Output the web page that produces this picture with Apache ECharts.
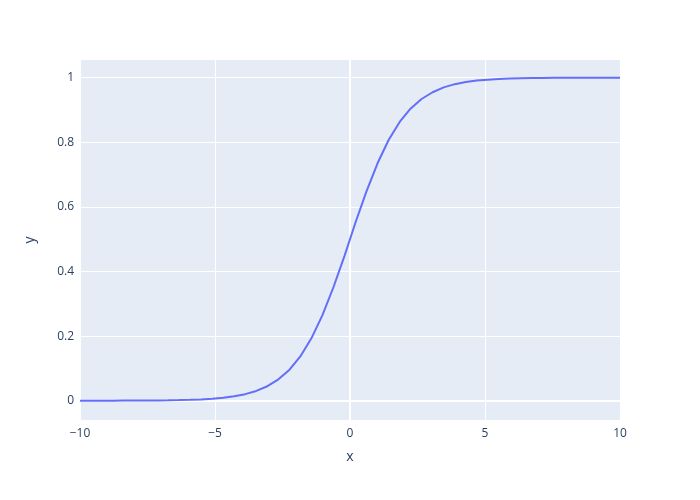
<!DOCTYPE html>
<html>
<head>
<meta charset="utf-8">
<script src="https://cdn.jsdelivr.net/npm/echarts@6/dist/echarts.min.js"></script>
<style>html,body{margin:0;padding:0;background:#fff}#c{width:700px;height:500px}</style>
</head>
<body>
<div id="c"></div>
<script>
var xValues = [-10, -9.59, -9.18, -8.78, -8.37, -7.96, -7.55, -7.14, -6.73, -6.33,
  -5.92, -5.51, -5.10, -4.69, -4.29, -3.88, -3.47, -3.06, -2.65, -2.24,
  -1.84, -1.43, -1.02, -0.61, -0.20, 0.20, 0.61, 1.02, 1.43, 1.84,
  2.24, 2.65, 3.06, 3.47, 3.88, 4.29, 4.69, 5.10, 5.51, 5.92,
  6.33, 6.73, 7.14, 7.55, 7.96, 8.37, 8.78, 9.18, 9.59, 10];
var yValues = [0.00005, 0.00007, 0.0001, 0.00015, 0.00023, 0.00035, 0.00053, 0.00079, 0.0012, 0.0018,
  0.0027, 0.004, 0.006, 0.0091, 0.0135, 0.0202, 0.0302, 0.0448, 0.066, 0.096,
  0.137, 0.193, 0.265, 0.352, 0.449, 0.551, 0.648, 0.735, 0.807, 0.863,
  0.904, 0.934, 0.955, 0.970, 0.980, 0.9865, 0.991, 0.994, 0.996, 0.9973,
  0.9982, 0.9988, 0.9992, 0.9995, 0.99965, 0.99977, 0.99985, 0.9999, 0.99993, 0.99995];
var yTicks = [0, 0.2, 0.4, 0.6, 0.8, 1];
var xTicks = [-10, -5, 0, 5, 10];

var chart = echarts.init(document.getElementById('c'), null, {renderer: 'canvas'});
var font = '"Open Sans", "Noto Sans", sans-serif';
var gridColor = '#ffffff';
chart.setOption({
  animation: false,
  textStyle: {fontFamily: font},
  grid: {left: 80, right: 80, top: 60, bottom: 80, show: true, backgroundColor: '#E5ECF6', borderWidth: 0},
  xAxis: {
    type: 'value', min: -10, max: 10, interval: 5,
    name: 'x', nameLocation: 'middle', nameGap: 30,
    nameTextStyle: {color: '#2a3f5f', fontSize: 14, fontFamily: font},
    axisLine: {show: false}, axisTick: {show: false},
    axisLabel: {color: '#2a3f5f', fontSize: 12, fontFamily: font, margin: 8,
      formatter: function (v) { return v < 0 ? '\u2212' + Math.abs(v) : String(v); }},
    splitLine: {show: true, lineStyle: {color: gridColor, width: 1}}
  },
  yAxis: {
    type: 'value', min: -0.0598, max: 1.0548,
    name: 'y', nameLocation: 'middle', nameGap: 43,
    nameTextStyle: {color: '#2a3f5f', fontSize: 14, fontFamily: font},
    axisLine: {show: false}, axisTick: {show: false},
    axisLabel: {color: '#2a3f5f', fontSize: 12, fontFamily: font, margin: 6, customValues: yTicks,
      formatter: function (v) { return String(v); }},
    splitLine: {show: false}
  },
  series: [
    {
      type: 'line', data: [], silent: true,
      markLine: {
        silent: true, symbol: 'none', label: {show: false}, animation: false,
        lineStyle: {color: gridColor, type: 'solid', width: 1},
        data: yTicks.map(function (t) { return {yAxis: t, lineStyle: {width: t === 0 ? 2 : 1}}; })
          .concat([{xAxis: 0, lineStyle: {width: 2}}])
      },
      z: 1
    },
    {
      type: 'line',
      data: xValues.map(function (x, i) { return [x, yValues[i]]; }),
      showSymbol: false,
      lineStyle: {color: '#636efa', width: 2},
      itemStyle: {color: '#636efa'},
      z: 5
    }
  ]
});
</script>
</body>
</html>
